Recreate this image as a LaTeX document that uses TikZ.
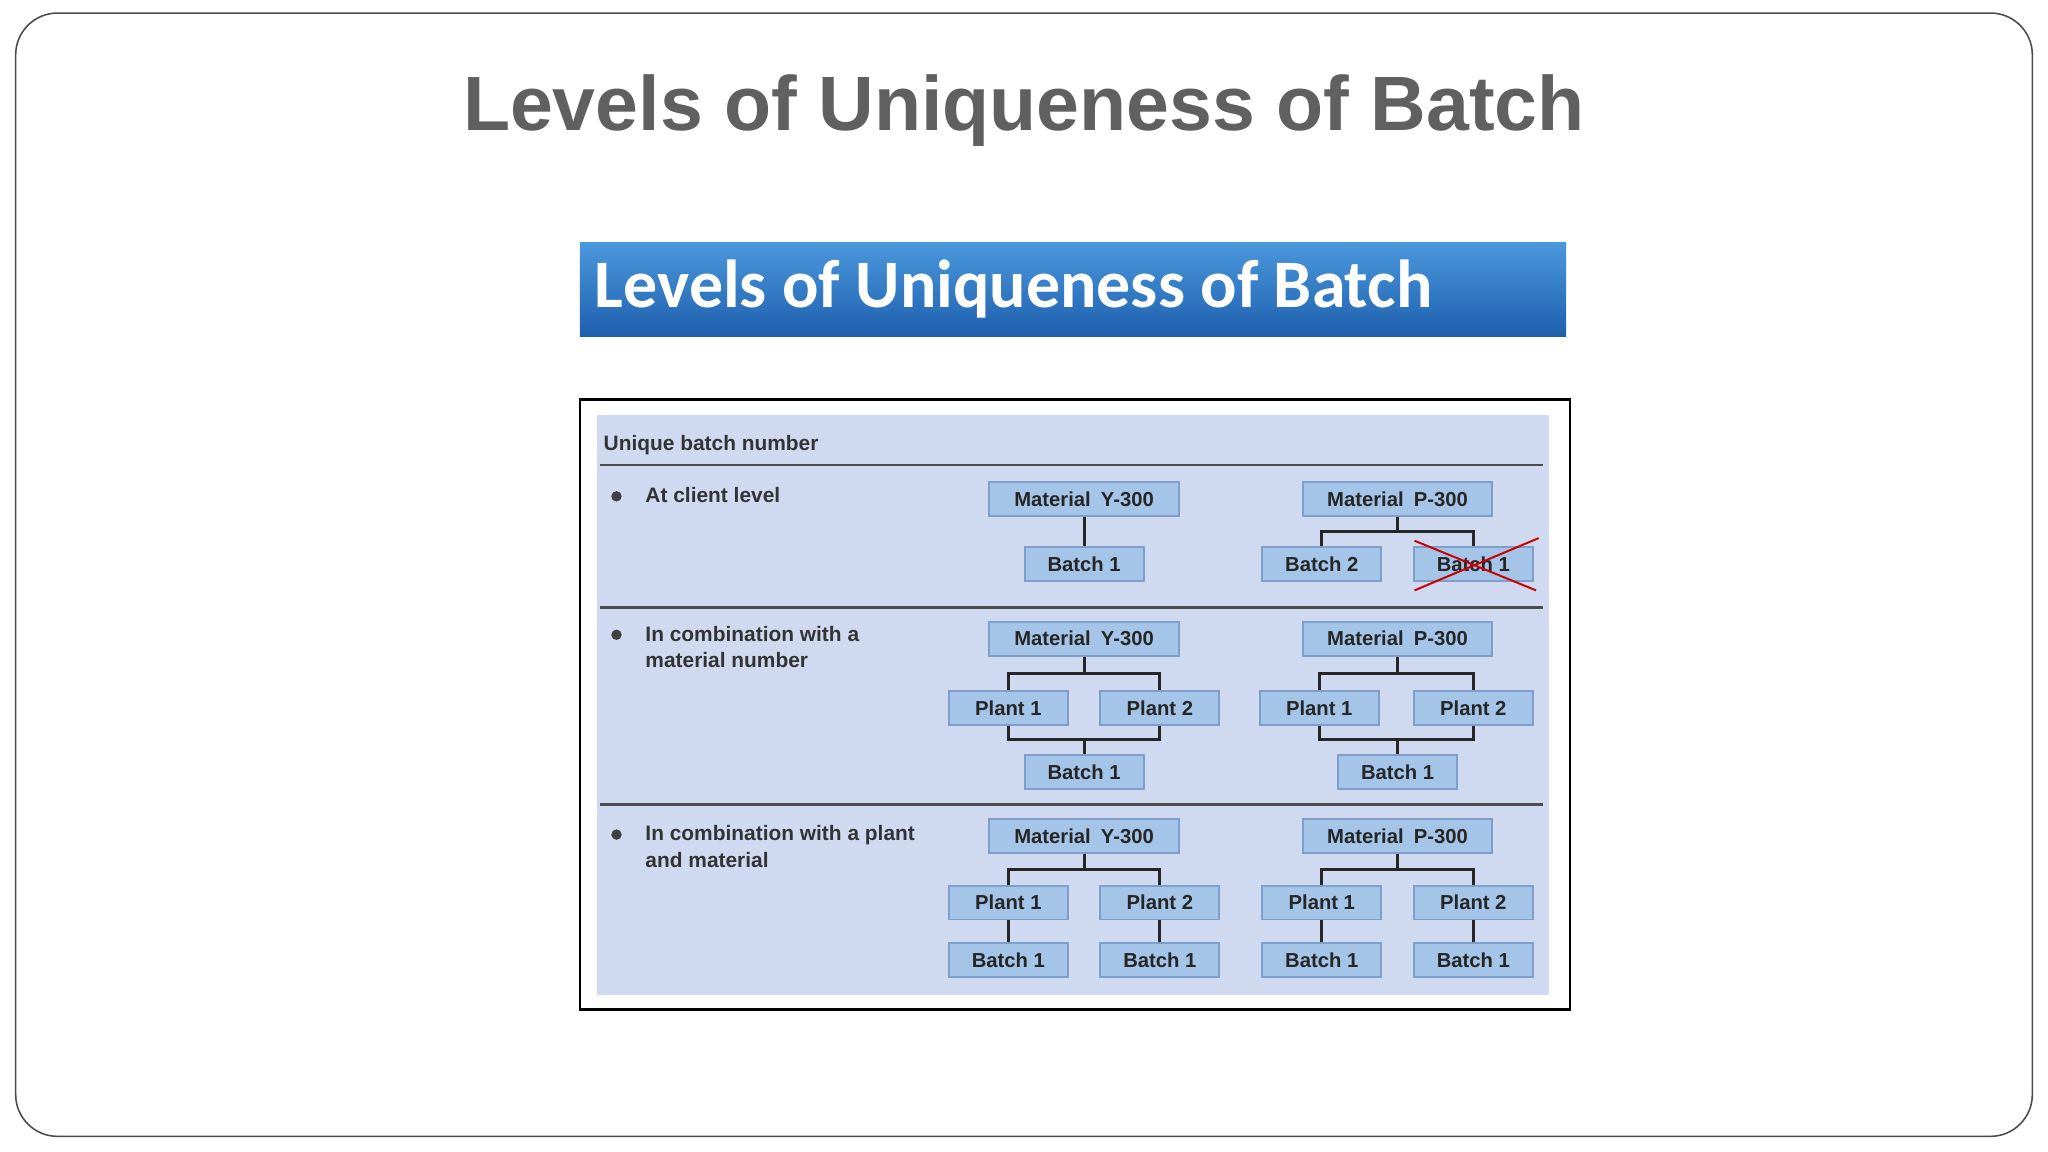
\documentclass[tikz,border=0pt]{standalone}
\usepackage{fontspec}
\setmainfont{Liberation Sans}
\newfontfamily\banfont{Carlito}
\usetikzlibrary{calc}
\definecolor{titlegray}{HTML}{606060}
\definecolor{panel}{HTML}{CFDAF0}
\definecolor{boxfill}{HTML}{A4C4E8}
\definecolor{boxedge}{HTML}{7E9FCB}
\definecolor{bantop}{HTML}{4A98DC}
\definecolor{banbot}{HTML}{1E5FAE}
\tikzset{
 bx/.style={draw=boxedge,line width=1.5pt,fill=boxfill,inner sep=0pt,minimum height=26pt,
   font=\fontsize{15.5}{19}\selectfont\bfseries,text=black!85},
 mat/.style={bx,minimum width=145pt},
 sml/.style={bx,minimum width=91pt},
 ln/.style={line width=2.2pt,black!85},
 sep/.style={line width=2pt,black!70},
 lab/.style={anchor=north west,align=left,inner sep=0pt,font=\fontsize{16}{20}\selectfont\bfseries,text=black!80}
}
\begin{document}
\begin{tikzpicture}[x=1pt,y=-1pt]
\useasboundingbox (0,0) rectangle (1568,882);
\fill[white] (0,0) rectangle (1568,882);
\draw[black!70,line width=1.2pt,rounded corners=32pt] (12,10) rectangle (1556,870);
\node[font=\fontsize{59}{70}\selectfont\bfseries,text=titlegray] (title) at (784,85) {Levels of Uniqueness of Batch};
\shade[top color=bantop,bottom color=banbot] (444,186) rectangle (1199,258);
\node[anchor=west,text=white,font=\banfont\fontsize{52}{60}\selectfont\bfseries] (ban) at (452,221) {Levels of Uniqueness of Batch};
\draw[black,line width=2pt,fill=white] (444,306) rectangle (1202,773);
\fill[panel] (457,318) rectangle (1186,762);
\node[lab] (u) at (462,333) {Unique batch number};
\draw[sep] (459,356) -- (1181,356);
\draw[sep] (459,465) -- (1181,465);
\draw[sep] (459,616) -- (1181,616);
\fill[black!75] (472,380) circle (4);
\fill[black!75] (472,486) circle (4);
\fill[black!75] (472,639) circle (4);
\node[lab] (l1) at (494,373) {At client level};
\node[lab] (l2) at (494,479) {In combination with a\\material number};
\node[lab] (l3) at (494,632) {In combination with a plant\\and material};
% row 1
\node[mat] (a1) at (830,382) {Material\enspace Y-300};
\node[sml] (a2) at (830,432) {Batch 1};
\draw[ln] (a1) -- (a2);
\node[mat] (b1) at (1070,382) {Material\enspace P-300};
\node[sml] (b2) at (1012,432) {Batch 2};
\node[sml] (b3) at (1128,432) {Batch 1};
\draw[ln] (b1.south) -- ($(b1.south)!.5!(b1.south|-b2.north)$);
\draw[ln] (b2.north) |- ($(b1.south)!.5!(b2.north)$) -| (b3.north);
\draw[red!80!black,line width=1.5pt] (1083,452) -- (1178,412);
\draw[red!80!black,line width=1.5pt] (1083,414) -- (1176,452);
% row 2
\node[mat] (c1) at (830,489) {Material\enspace Y-300};
\node[sml] (c2) at (772,542) {Plant 1};
\node[sml] (c3) at (888,542) {Plant 2};
\node[sml] (c4) at (830,591) {Batch 1};
\draw[ln] (c1.south) -- ($(c1.south)!.5!(c1.south|-c2.north)$);
\draw[ln] (c2.north) |- ($(c1.south)!.5!(c2.north)$) -| (c3.north);
\draw[ln] (c2.south) |- ($(c2.south)!.5!(c2.south|-c4.north)$) -| (c3.south);
\draw[ln] (c4.north) -- ($(c4.north)!.5!(c4.north|-c2.south)$);
\node[mat] (d1) at (1070,489) {Material\enspace P-300};
\node[sml] (d2) at (1010,542) {Plant 1};
\node[sml] (d3) at (1128,542) {Plant 2};
\node[sml] (d4) at (1070,591) {Batch 1};
\draw[ln] (d1.south) -- ($(d1.south)!.5!(d1.south|-d2.north)$);
\draw[ln] (d2.north) |- ($(d1.south)!.5!(d2.north)$) -| (d3.north);
\draw[ln] (d2.south) |- ($(d2.south)!.5!(d2.south|-d4.north)$) -| (d3.south);
\draw[ln] (d4.north) -- ($(d4.north)!.5!(d4.north|-d2.south)$);
% row 3
\node[mat] (e1) at (830,640) {Material\enspace Y-300};
\node[sml] (e2) at (772,691) {Plant 1};
\node[sml] (e3) at (888,691) {Plant 2};
\node[sml] (e4) at (772,735) {Batch 1};
\node[sml] (e5) at (888,735) {Batch 1};
\draw[ln] (e1.south) -- ($(e1.south)!.5!(e1.south|-e2.north)$);
\draw[ln] (e2.north) |- ($(e1.south)!.5!(e2.north)$) -| (e3.north);
\draw[ln] (e2) -- (e4);
\draw[ln] (e3) -- (e5);
\node[mat] (f1) at (1070,640) {Material\enspace P-300};
\node[sml] (f2) at (1012,691) {Plant 1};
\node[sml] (f3) at (1128,691) {Plant 2};
\node[sml] (f4) at (1012,735) {Batch 1};
\node[sml] (f5) at (1128,735) {Batch 1};
\draw[ln] (f1.south) -- ($(f1.south)!.5!(f1.south|-f2.north)$);
\draw[ln] (f2.north) |- ($(f1.south)!.5!(f2.north)$) -| (f3.north);
\draw[ln] (f2) -- (f4);
\draw[ln] (f3) -- (f5);
\end{tikzpicture}
\end{document}
